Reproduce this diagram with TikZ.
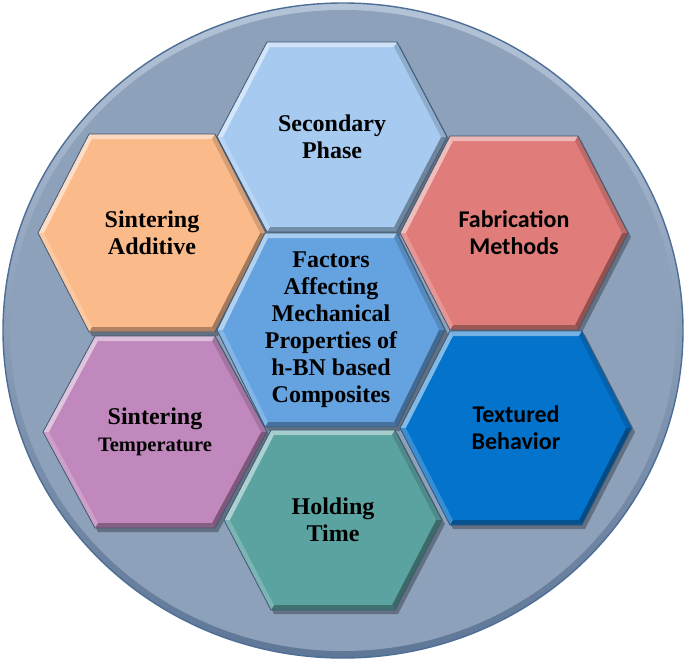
\documentclass[tikz,border=0pt]{standalone}
\usepackage{fontspec}
\setmainfont{Liberation Serif}
\newfontfamily\calib{Carlito}
\definecolor{ringbase}{HTML}{8DA1BA}
\definecolor{ringedge}{HTML}{4E6E96}
\definecolor{ringlight}{HTML}{B4C4D8}
\definecolor{ringdark}{HTML}{5F7797}
\definecolor{hexedge}{HTML}{3E5874}
\definecolor{cTop}{HTML}{A7CBF0}
\definecolor{cMid}{HTML}{64A2E0}
\definecolor{cOrange}{HTML}{FBBA8A}
\definecolor{cRed}{HTML}{E07D7A}
\definecolor{cPurple}{HTML}{C088BC}
\definecolor{cGreen}{HTML}{5BA3A1}
\definecolor{cBlue}{HTML}{0473CB}
\tikzset{
  hexline/.style={draw=hexedge, line width=0.8pt, line join=round},
  hextext/.style={align=center, inner sep=0pt, text=black,
    font=\fontsize{24}{27}\selectfont\bfseries},
}
% #1 name, #2 cx, #3 cy, #4 half-width a, #5 half-height h, #6 top half-edge b, #7 colour, #8 text
\newcommand{\hexcell}[8]{%
\begin{scope}[shift={(#2,#3)}]
  \fill[black, opacity=0.3] (-#4+3,4) -- (-#6+3,-#5+4) -- (#6+3,-#5+4) -- (#4+3,4) -- (#6+3,#5+4) -- (-#6+3,#5+4) -- cycle;
  \fill[#7] (-#4,0) -- (-#6,-#5) -- (#6,-#5) -- (#4,0) -- (#6,#5) -- (-#6,#5) -- cycle;
  % bevel strips (d = 5)
  \fill[#7!55!white] (-#6,-#5) -- (#6,-#5) -- (#6-2.9,-#5+5) -- (-#6+2.9,-#5+5) -- cycle;
  \fill[#7!50!white] (-#4,0) -- (-#6,-#5) -- (-#6+2.9,-#5+5) -- (-#4+5.8,0) -- cycle;
  \fill[#7!85!black] (#6,-#5) -- (#4,0) -- (#4-5.8,0) -- (#6-2.9,-#5+5) -- cycle;
  \fill[#7!65!black] (#4,0) -- (#6,#5) -- (#6-2.9,#5-5) -- (#4-5.8,0) -- cycle;
  \fill[#7!70!black] (#6,#5) -- (-#6,#5) -- (-#6+2.9,#5-5) -- (#6-2.9,#5-5) -- cycle;
  \fill[#7!80!white] (-#6,#5) -- (-#4,0) -- (-#4+5.8,0) -- (-#6+2.9,#5-5) -- cycle;
  \draw[hexline] (-#4,0) -- (-#6,-#5) -- (#6,-#5) -- (#4,0) -- (#6,#5) -- (-#6,#5) -- cycle;
  \node[hextext] (#1) at (0,0) {#8};
\end{scope}}
\begin{document}
\begin{tikzpicture}[x=1pt, y=-1pt]
\useasboundingbox (0,0) rectangle (685,664);
\fill[white] (0,0) rectangle (685,664);
% background disc
\shade[top color=ringlight, bottom color=ringdark] (343,330.5) ellipse [x radius=340, y radius=327.5];
\fill[ringbase] (343,330.5) ellipse [x radius=333, y radius=320.5];
\draw[ringedge, line width=1.4pt] (343,330.5) ellipse [x radius=340, y radius=327.5];
% hexagons
\hexcell{secondary}{332}{137}{115}{95}{65}{cTop}{Secondary\\Phase}
\hexcell{additive}{152}{233}{114}{99}{63}{cOrange}{Sintering\\Additive}
\hexcell{fabrication}{514}{233}{114}{97}{64}{cRed}{\calib Fabrication\\\calib Methods}
\hexcell{factors}{331}{330}{114}{97}{66}{cMid}{Factors\\Affecting\\Mechanical\\Properties of\\h-BN based\\Composites}
\hexcell{temperature}{155}{432}{112}{96}{60}{cPurple}{Sintering\\{\fontsize{20.5}{27}\selectfont Temperature}}
\hexcell{textured}{516}{428}{116}{97}{66}{cBlue}{\calib Textured\\\calib Behavior}
\hexcell{holding}{333}{520}{109}{90}{62}{cGreen}{Holding\\Time}
\end{tikzpicture}
\end{document}
